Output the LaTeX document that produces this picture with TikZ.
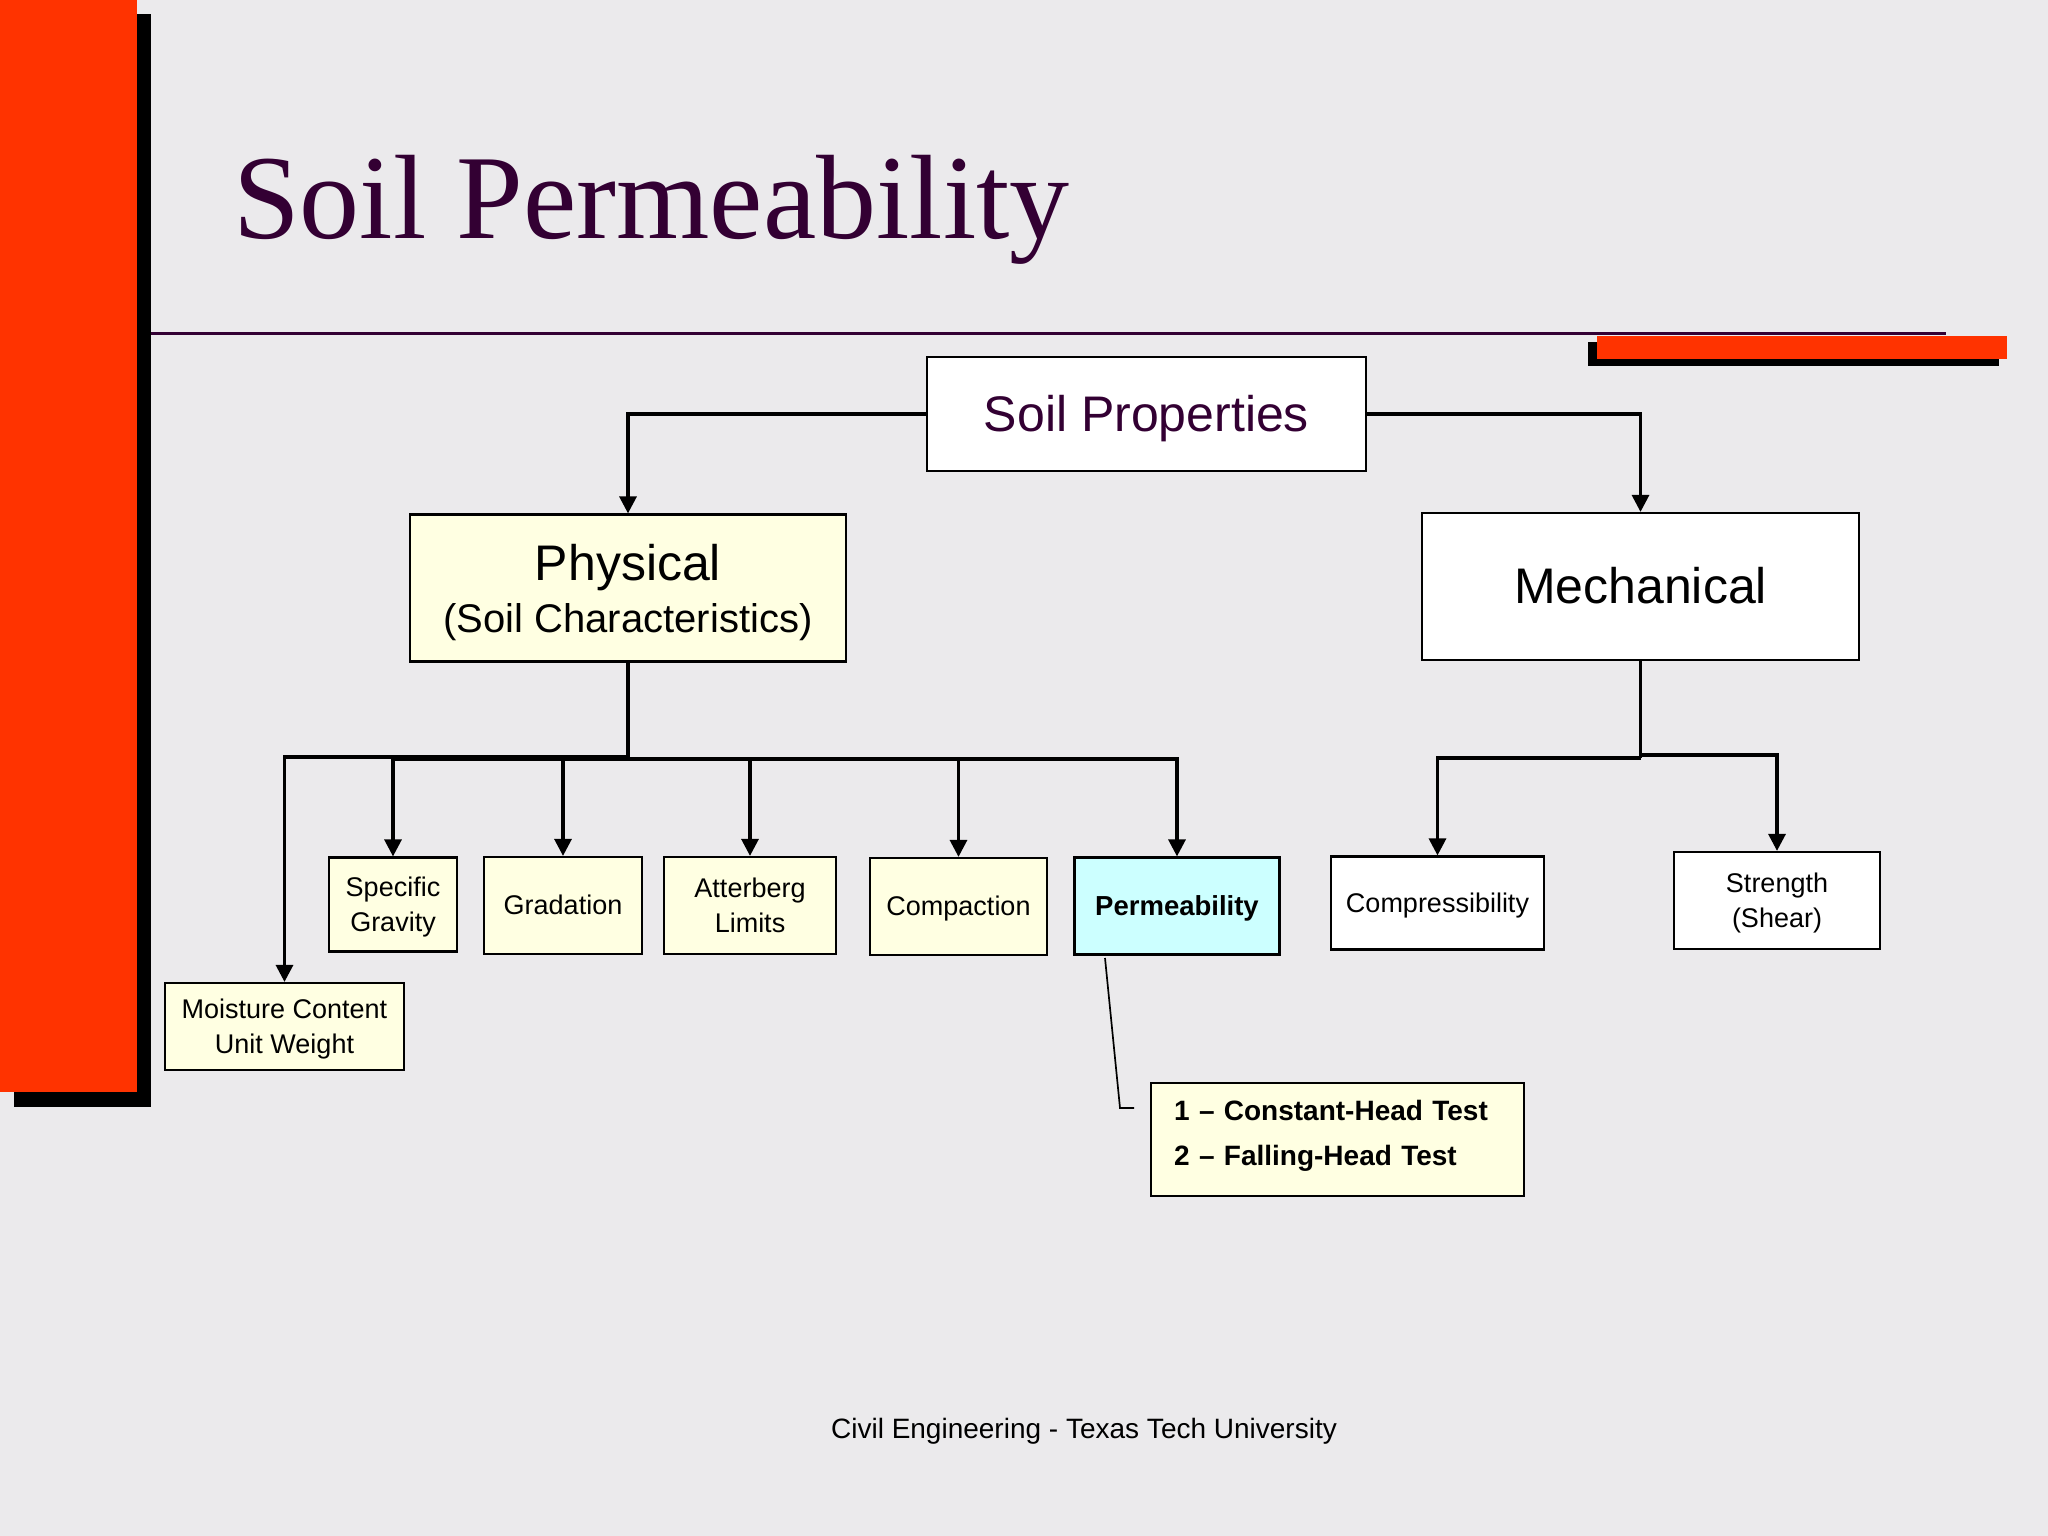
\documentclass[tikz,border=0pt]{standalone}
\usepackage{fontspec}
\setmainfont{Liberation Sans}
\newfontfamily\titlefont{Liberation Serif}
\usetikzlibrary{arrows.meta}
\definecolor{bg}{RGB}{235,234,236}
\definecolor{redbar}{RGB}{255,51,0}
\definecolor{plum}{RGB}{51,0,51}
\definecolor{paleyellow}{RGB}{255,255,226}
\definecolor{palecyan}{RGB}{204,255,255}
\newcommand{\mystrut}{\rule[-0.212em]{0pt}{1.117em}}
\tikzset{
  box/.style={draw=black, line width=2.2pt, inner sep=0pt, align=center, font=\fontsize{27}{35}\selectfont},
  ybox/.style={box, fill=paleyellow},
  wbox/.style={box, fill=white},
  conn/.style={draw=black, line width=3.2pt},
  arr/.style={conn, -{Triangle[width=17pt,length=17pt]}},
  leader/.style={draw=black, line width=1.7pt}
}
\begin{document}
\begin{tikzpicture}[x=1pt,y=-1pt]
\useasboundingbox (0,0) rectangle (2048,1536);
\fill[bg] (0,0) rectangle (2048,1536);
% left bar with shadow
\fill[black] (14,14) rectangle (151,1107);
\fill[redbar] (0,0) rectangle (137,1092);
% title rule
\draw[plum, line width=3pt] (151,333) -- (1946,333);
% right bar with shadow
\fill[black] (1588,342) rectangle (1999,366);
\fill[redbar] (1597,336) rectangle (2007,359);
% title
\node[anchor=base west, inner sep=0pt, text=plum, font=\titlefont\fontsize{120}{120}\selectfont] (title) at (233,238) {Soil Permeability};

% nodes
\node[wbox, minimum width=439pt, minimum height=114pt, text=plum, font=\fontsize{50}{55}\selectfont] (sp) at (1146.5,414) {\mystrut Soil Properties};
\node[ybox, minimum width=436pt, minimum height=147pt, font=\fontsize{40}{52}\selectfont] (phys) at (628,588) {{\fontsize{50}{52}\selectfont\mystrut Physical}\\\mystrut (Soil Characteristics)};
\node[wbox, minimum width=437pt, minimum height=147pt, font=\fontsize{50}{55}\selectfont] (mech) at (1640.5,586.5) {\mystrut Mechanical};

\node[ybox, minimum width=128pt, minimum height=94pt] (sg) at (393,904.5) {\mystrut Specific\\\mystrut Gravity};
\node[ybox, minimum width=158pt, minimum height=97pt] (grad) at (563,905.5) {\mystrut Gradation};
\node[ybox, minimum width=172pt, minimum height=97pt] (att) at (750,905.5) {\mystrut Atterberg\\\mystrut Limits};
\node[ybox, minimum width=239pt, minimum height=87pt] (mois) at (284.5,1026.5) {\mystrut Moisture Content\\\mystrut Unit Weight};
\node[ybox, minimum width=177pt, minimum height=97pt] (comp) at (958.5,906.5) {\mystrut Compaction};
\node[box, fill=palecyan, minimum width=205pt, minimum height=97pt, font=\bfseries\fontsize{27.5}{35}\selectfont] (perm) at (1177,906) {\mystrut Permeability};
\node[wbox, minimum width=213pt, minimum height=93pt] (compr) at (1437.5,903) {\mystrut Compressibility};
\node[wbox, minimum width=206pt, minimum height=97pt] (str) at (1777,900.5) {\mystrut Strength\\\mystrut (Shear)};

\node[ybox, anchor=north west, minimum width=373pt, minimum height=113pt, inner xsep=23pt, text width=327pt, align=left, font=\bfseries\fontsize{28}{45}\selectfont] (tests) at (1150,1082) {1 -- Constant-Head Test\\2 -- Falling-Head Test\rule[-14pt]{0pt}{0pt}};

\node[inner sep=0pt, font=\fontsize{28}{34}\selectfont] (footer) at (1084,1431) {Civil Engineering - Texas Tech University};

% connectors
\draw[arr] (sp.west) -| (phys.north);
\draw[arr] (sp.east) -| (mech.north);

\coordinate (pb) at (628,757);
\coordinate (pbr) at (628,759);
\draw[conn] (phys.south) -- (pbr);
\draw[arr] (pb) -| (mois.north);
\draw[arr] (pbr) -| (sg.north);
\draw[arr] (pbr) -| (grad.north);
\draw[arr] (pbr) -| (att.north);
\draw[arr] (pbr) -| (comp.north);
\draw[arr] (pbr) -| (perm.north);

\coordinate (mb) at (1640.5,758);
\coordinate (mbr) at (1640.5,755);
\draw[conn] (mech.south) -- (mb);
\draw[arr] (mb) -| (compr.north);
\draw[arr] (mbr) -| (str.north);

\coordinate (c1) at (1105,958);
\coordinate (c2) at (1120,1108);
\coordinate (c3) at (1134,1108);
\draw[leader] (c1) -- (c2) -- (c3);
\end{tikzpicture}
\end{document}
